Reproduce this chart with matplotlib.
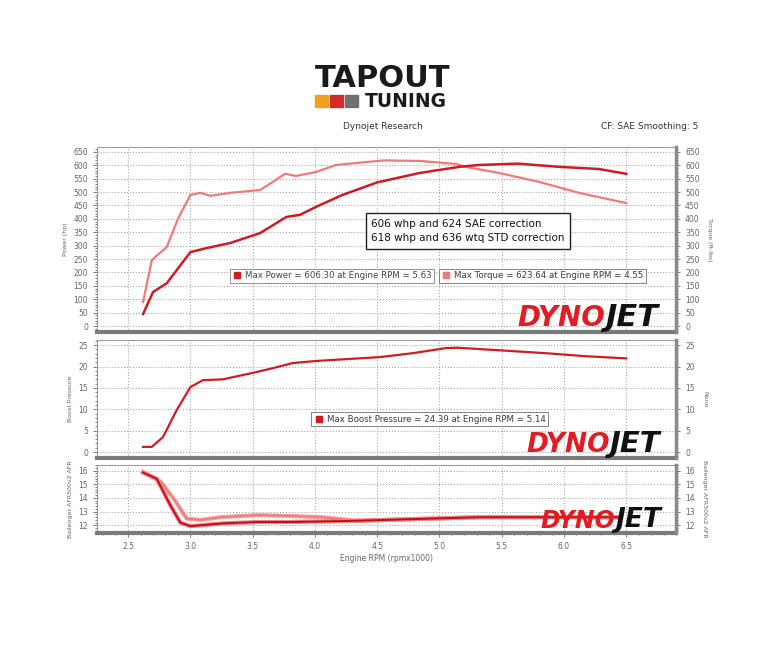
import matplotlib.pyplot as plt
import matplotlib.patches as mpatches
from matplotlib.lines import Line2D
from matplotlib.ticker import MultipleLocator

# engine rpm (x1000) and readings taken off the dyno sheet
power_rpm = [2.62, 2.70, 2.81, 2.90, 3.00, 3.13, 3.32, 3.56, 3.77, 3.88, 4.01, 4.22,
             4.50, 4.84, 5.16, 5.32, 5.63, 5.96, 6.28, 6.50]
power_hp = [45, 127, 160, 215, 276, 291, 310, 347, 407, 415, 445, 489,
            536, 571, 594, 601, 606, 594, 586, 568]

torque_rpm = [2.62, 2.69, 2.81, 2.90, 3.00, 3.08, 3.16, 3.32, 3.56, 3.65, 3.76, 3.85,
              4.01, 4.17, 4.55, 4.84, 5.13, 5.21, 5.48, 5.80, 6.12, 6.50]
torque_ftlb = [90, 246, 295, 400, 489, 497, 486, 497, 508, 534, 568, 560,
               575, 601, 618, 616, 605, 594, 571, 538, 497, 459]

boost_rpm = [2.62, 2.69, 2.78, 2.89, 3.00, 3.10, 3.26, 3.50, 3.66, 3.82, 4.01, 4.52,
             4.78, 5.05, 5.14, 5.48, 5.86, 6.18, 6.50]
boost_psi = [1.2, 1.2, 3.5, 9.8, 15.2, 16.8, 17.0, 18.5, 19.6, 20.8, 21.3, 22.2,
             23.1, 24.3, 24.4, 23.8, 23.1, 22.4, 21.9]

afr1_rpm = [2.62, 2.73, 2.84, 2.92, 3.00, 3.26, 3.53, 3.80, 4.10, 4.37, 4.74, 5.32, 5.86, 6.45]
afr1 = [15.85, 15.4, 13.45, 12.2, 11.95, 12.15, 12.25, 12.25, 12.3, 12.35, 12.45, 12.6, 12.6, 12.6]
afr2_rpm = [2.62, 2.76, 2.87, 2.97, 3.08, 3.24, 3.53, 3.79, 4.06, 4.33, 4.74, 5.32, 5.86, 6.45]
afr2 = [15.9, 15.2, 13.9, 12.5, 12.4, 12.6, 12.75, 12.7, 12.6, 12.35, 12.45, 12.6, 12.6, 12.6]

DARK = '#cf1b22'
LIGHT = '#f07a7a'
TICK_C = '#666666'
XLIM = (2.25, 6.9)


def style_panel(ax, ylim, major, minor, left_label, right_label, show_x):
    ax.set_xlim(*XLIM)
    ax.set_ylim(*ylim)
    ax.xaxis.set_major_locator(MultipleLocator(0.5))
    ax.xaxis.set_minor_locator(MultipleLocator(0.1))
    ax.yaxis.set_major_locator(MultipleLocator(major))
    ax.yaxis.set_minor_locator(MultipleLocator(minor))
    ax.grid(True, which='major', ls=':', color='#a8a8a8', lw=0.8)
    ax.tick_params(which='both', colors=TICK_C, labelsize=5.5, length=3, width=0.6)
    ax.tick_params(which='minor', length=1.5)
    if not show_x:
        ax.tick_params(axis='x', labelbottom=False, length=0, which='both')
    for s in ax.spines.values():
        s.set_color('#9a9a9a')
        s.set_linewidth(0.8)
    ax.spines['bottom'].set_color('#7a7a7a')
    ax.spines['bottom'].set_linewidth(3)
    ax.set_ylabel(left_label, fontsize=4.5, color=TICK_C, labelpad=4)
    tw = ax.twinx()
    tw.set_ylim(*ylim)
    tw.yaxis.set_major_locator(MultipleLocator(major))
    tw.yaxis.set_minor_locator(MultipleLocator(minor))
    tw.tick_params(which='both', colors=TICK_C, labelsize=5.5, length=3, width=0.6)
    tw.tick_params(which='minor', length=1.5)
    tw.spines['right'].set_color('#8a8a8a')
    tw.spines['right'].set_linewidth(2.5)
    for k in ('top', 'bottom', 'left'):
        tw.spines[k].set_visible(False)
    tw.set_ylabel(right_label, fontsize=4.5, color=TICK_C, rotation=270, labelpad=9)
    return tw


def dynojet(ax, split, size):
    ax.text(split, 0.0, 'DYNO', transform=ax.transAxes, ha='right', va='bottom',
            fontsize=size, fontweight='heavy', style='italic', color='#e31b23',
            family='DejaVu Sans', zorder=5)
    ax.text(split, 0.0, 'JET', transform=ax.transAxes, ha='left', va='bottom',
            fontsize=size + 2, fontweight='heavy', style='italic', color='#111111',
            family='DejaVu Sans', zorder=5)


def key_box(ax, color, label, x, y):
    h = Line2D([], [], marker='s', ls='', color=color, markersize=4,
               markeredgecolor=color)
    lg = ax.legend([h], [label], loc='center', bbox_to_anchor=(x, y),
                   bbox_transform=ax.transAxes, fontsize=6.2, frameon=True,
                   fancybox=False, edgecolor='#777777', handletextpad=0.3,
                   borderpad=0.3, handlelength=1.2, labelcolor='#444444')
    lg.get_frame().set_linewidth(0.7)
    ax.add_artist(lg)


def main():
    fig = plt.figure(figsize=(7.68, 6.49), dpi=100)

    # header logo and titles
    fig.text(0.410, 0.866, 'TAPOUT', fontsize=22, fontweight='heavy', color='#1a1a1a',
             ha='left', va='baseline')
    fig.text(0.475, 0.835, 'TUNING', fontsize=13.5, fontweight='heavy', color='#1a1a1a',
             ha='left', va='baseline')
    for i, c in enumerate(['#f0a020', '#d42a2a', '#707070']):
        fig.patches.append(mpatches.Rectangle((0.410 + i * 0.0195, 0.835), 0.017, 0.0185,
                                              transform=fig.transFigure, color=c))
    fig.text(0.499, 0.805, 'Dynojet Research', fontsize=6.5, color='#333333',
             ha='center', va='center')
    fig.text(0.846, 0.805, 'CF: SAE Smoothing: 5', fontsize=6.5, color='#333333',
             ha='center', va='center')

    left, width = 0.1263, 0.754

    # power / torque panel
    ax1 = fig.add_axes([left, 0.4884, width, 0.2851])
    style_panel(ax1, (-22, 668), 50, 10, 'Power (hp)', 'Torque (ft-lbs)', False)
    ax1.plot(torque_rpm, torque_ftlb, color=LIGHT, lw=1.6, zorder=3)
    ax1.plot(power_rpm, power_hp, color=DARK, lw=1.8, zorder=3)
    ax1.text(0.473, 0.546, '606 whp and 624 SAE correction\n618 whp and 636 wtq STD correction',
             transform=ax1.transAxes, fontsize=7.5, color='#111111', linespacing=1.6,
             va='center', ha='left',
             bbox=dict(boxstyle='square,pad=0.5', fc='white', ec='#222222', lw=1.0))
    key_box(ax1, DARK, 'Max Power = 606.30 at Engine RPM = 5.63', 0.406, 0.305)
    key_box(ax1, LIGHT, 'Max Torque = 623.64 at Engine RPM = 4.55', 0.769, 0.305)
    dynojet(ax1, 0.877, 20)

    # boost panel
    ax2 = fig.add_axes([left, 0.2943, width, 0.1818])
    style_panel(ax2, (-1.4, 26.2), 5, 1, 'Boost Pressure', 'None', False)
    ax2.plot(boost_rpm, boost_psi, color=DARK, lw=1.6, zorder=3)
    key_box(ax2, DARK, 'Max Boost Pressure = 24.39 at Engine RPM = 5.14', 0.575, 0.33)
    dynojet(ax2, 0.885, 19)

    # air fuel panel
    ax3 = fig.add_axes([left, 0.1787, width, 0.1048])
    style_panel(ax3, (11.45, 16.4), 1, 0.2, 'Ballenger AFR500v2 AFR',
                'Ballenger AFR500v2 AFR', True)
    ax3.plot(afr2_rpm, afr2, color='#f5a0a0', lw=3.0, zorder=3)
    ax3.plot(afr2_rpm, afr2, color=LIGHT, lw=1.2, zorder=3)
    ax3.plot(afr1_rpm, afr1, color='#f08080', lw=3.0, zorder=3)
    ax3.plot(afr1_rpm, afr1, color='#c01018', lw=1.4, zorder=3)
    ax3.set_xlabel('Engine RPM (rpmx1000)', fontsize=5.5, color=TICK_C, labelpad=2)
    dynojet(ax3, 0.895, 17)

    plt.savefig('out.png', dpi=100)


if __name__ == '__main__':
    main()
